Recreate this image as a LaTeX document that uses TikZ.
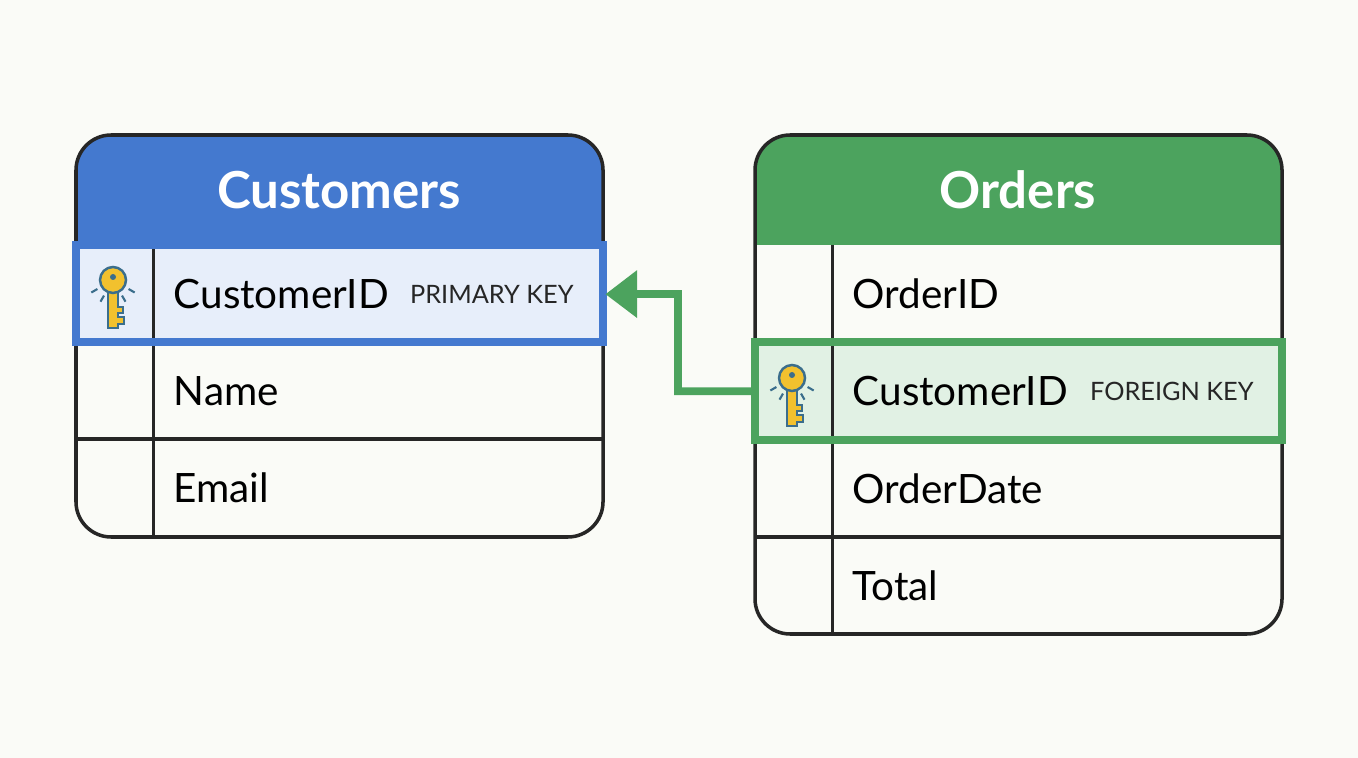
\documentclass[tikz,border=0pt]{standalone}
\usepackage{fontspec}
\setmainfont{Lato}
\usetikzlibrary{positioning,arrows.meta}
\definecolor{bluehead}{HTML}{4479CF}
\definecolor{greenhead}{HTML}{4CA35E}
\definecolor{bluerow}{HTML}{E7EEFA}
\definecolor{greenrow}{HTML}{E1F1E4}
\definecolor{keyyellow}{HTML}{F2C12E}
\definecolor{keyline}{HTML}{3B6E8C}
\definecolor{paper}{HTML}{FAFBF7}
\newcommand\keyicon[1]{%
  \begin{scope}[shift={(#1)}]
    \foreach \a in {150,120,90,60,30}
      \draw[keyline,line width=0.6pt] (\a:18) -- (\a:25);
    \draw[keyline,line width=0.7pt,fill=keyyellow] (-5,9) -- (-5,48) -- (5,48) -- (5,44) -- (11,44) -- (11,37) -- (5,37) -- (5,33) -- (10,33) -- (10,27) -- (5,27) -- (5,9) -- cycle;
    \draw[keyline,line width=0.7pt,fill=keyyellow] (0,0) circle (13);
    \fill[keyline] (0,-3) circle (3);
  \end{scope}}
\begin{document}
\begin{tikzpicture}[
        x=0.01cm, y=-0.01cm,
        cell/.style={minimum width=451*0.01cm, minimum height=97*0.01cm,
                     text width=410*0.01cm, inner xsep=21*0.01cm, inner ysep=0pt, align=left, font=\fontsize{11.5}{12}\selectfont, anchor=north west},
        iconcol/.style={minimum width=76*0.01cm, minimum height=97*0.01cm, inner sep=0pt, anchor=north west},
        grid/.style={black!85, line width=1pt},
        title/.style={text=white, font=\fontsize{14.5}{15}\selectfont\bfseries},
        tag/.style={font=\fontsize{7.2}{8}\selectfont, text=black!85, anchor=east},
        link/.style={greenhead, line width=2.2pt, -{Triangle[length=9pt,width=13pt]}}
    ]
    \fill[paper] (0,0) rectangle (1358,758);

    % Customers table
    \fill[bluehead] (76,245) [rounded corners=10]-- (76,135) -- (603,135) [sharp corners]-- (603,245) -- cycle;
    \node[title] (ctitle) at (339,190) {Customers};
    \node[iconcol, fill=bluerow] (cic1) at (76,245) {};
    \node[cell, fill=bluerow] (cid) at (152,245) {CustomerID};
    \node[iconcol] (cic2) at (76,342) {};
    \node[cell] (cname) at (152,342) {Name};
    \node[iconcol] (cic3) at (76,439) {};
    \node[cell] (cmail) at (152,439) {Email};
    \draw[grid] (cic2.north west) -- (cname.north east) (cic3.north west) -- (cmail.north east)
        (cic1.north east) -- (cic3.south east);
    \draw[grid, rounded corners=10] (76,135) rectangle (603,537);
    \draw[bluehead, line width=2.2pt] (76,245) rectangle (603,342);
    \node[tag] (cpk) at (586,294) {PRIMARY KEY};
    \keyicon{113,280}

    % Orders table
    \fill[greenhead] (755,245) [rounded corners=10]-- (755,135) -- (1282,135) [sharp corners]-- (1282,245) -- cycle;
    \node[title] (otitle) at (1018,190) {Orders};
    \node[iconcol] (oic1) at (755,245) {};
    \node[cell] (oid) at (831,245) {OrderID};
    \node[iconcol, fill=greenrow] (oic2) at (755,342) {};
    \node[cell, fill=greenrow] (ocid) at (831,342) {CustomerID};
    \node[iconcol] (oic3) at (755,440) {};
    \node[cell] (odate) at (831,440) {OrderDate};
    \node[iconcol] (oic4) at (755,537) {};
    \node[cell] (ototal) at (831,537) {Total};
    \draw[grid] (oic3.north west) -- (odate.north east) (oic4.north west) -- (ototal.north east)
        (oic1.north east) -- (oic4.south east);
    \draw[grid, rounded corners=10] (755,135) rectangle (1282,634);
    \draw[greenhead, line width=2.2pt] (755,342) rectangle (1282,440);
    \node[tag] (ofk) at (1266,391) {FOREIGN KEY};
    \keyicon{792,378}

    % relation
    \coordinate (bend) at (678,294);
    \draw[link] (oic2.west) -| (bend) -- (cid.east);
\end{tikzpicture}
\end{document}
